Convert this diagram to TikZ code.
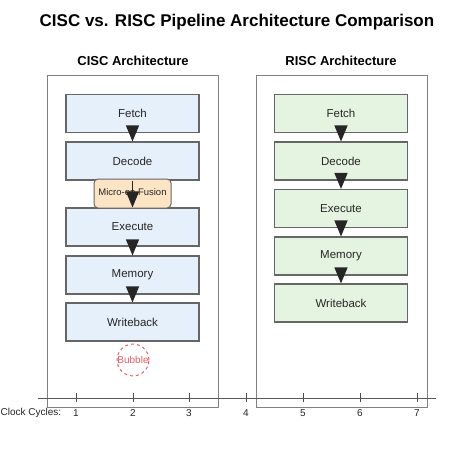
\documentclass[tikz,border=0pt]{standalone}
\usepackage{fontspec}
\setmainfont{Liberation Sans}
\usetikzlibrary{arrows.meta}
\definecolor{cblue}{HTML}{E6F0FB}
\definecolor{cgreen}{HTML}{E5F4E1}
\definecolor{corange}{HTML}{FDE4C4}
\definecolor{sborder}{HTML}{666666}
\definecolor{oborder}{HTML}{808080}
\definecolor{bred}{HTML}{EE5A64}
\tikzset{
  stagebox/.style={draw=sborder, line width=1.1pt, minimum width=133pt, minimum height=38pt, inner sep=0pt, font=\fontsize{11.5}{13}\selectfont, text=black!85},
  cisc/.style={stagebox, fill=cblue},
  risc/.style={stagebox, fill=cgreen},
  outerbox/.style={draw=oborder, line width=1pt},
  flow/.style={draw=black!85, line width=1.3pt, -{Triangle[length=16pt,width=13pt]}},
  tick/.style={draw=black!70, line width=0.8pt},
  ticklabel/.style={font=\fontsize{10}{12}\selectfont, text=black!85},
}
\begin{document}
\begin{tikzpicture}[x=1pt,y=-1pt]
\useasboundingbox (0,0) rectangle (474,474);
\fill[white] (0,0) rectangle (474,474);
% titles
\node[font=\bfseries\fontsize{17}{20}\selectfont] (title) at (237,22) {CISC vs. RISC Pipeline Architecture Comparison};
\node[font=\bfseries\fontsize{13}{15}\selectfont] (ctitle) at (133,61) {CISC Architecture};
\node[font=\bfseries\fontsize{13}{15}\selectfont] (rtitle) at (341,61) {RISC Architecture};
% outer boxes
\node[outerbox, minimum width=171pt, minimum height=332pt, inner sep=0pt] (cbox) at (132.5,241) {};
\node[outerbox, minimum width=171pt, minimum height=332pt, inner sep=0pt] (rbox) at (341.5,241) {};
% CISC stages
\node[cisc] (cf) at (132.5,113.5) {Fetch};
\node[cisc] (cd) at (132.5,161) {Decode};
\node[cisc] (ce) at (132.5,227) {Execute};
\node[cisc] (cm) at (132.5,275) {Memory};
\node[cisc] (cw) at (132.5,322) {Writeback};
\node[draw=sborder, line width=1pt, fill=corange, rounded corners=4pt, minimum width=77pt, minimum height=29pt, inner sep=0pt, font=\fontsize{9.5}{11}\selectfont, text=black!85] (fuse) at (132.5,193.5) {Micro-op Fusion};
% RISC stages
\node[risc] (rf) at (341,113.5) {Fetch};
\node[risc] (rd) at (341,161) {Decode};
\node[risc] (re) at (341,208.5) {Execute};
\node[risc] (rm) at (341,256) {Memory};
\node[risc] (rw) at (341,303) {Writeback};
% arrows
\draw[flow] (cf.south) -- (cd.north);
\draw[flow] (cd.south) -- (ce.north);
\draw[flow] (ce.south) -- (cm.north);
\draw[flow] (cm.south) -- (cw.north);
\draw[flow] (rf.south) -- (rd.north);
\draw[flow] (rd.south) -- (re.north);
\draw[flow] (re.south) -- (rm.north);
\draw[flow] (rm.south) -- (rw.north);
% bubble
\node[circle, draw=bred, dashed, dash pattern=on 3pt off 3pt, line width=1pt, minimum size=29pt, inner sep=0pt, text=bred, font=\fontsize{10}{11}\selectfont] (bub) at (133,360) {Bubble};
% clock axis
\coordinate (axl) at (38,398);
\coordinate (axr) at (436,398);
\draw[draw=black!65, line width=1pt] (axl) -- (axr);
\node[ticklabel, anchor=west, inner sep=0pt] (cc) at (0.5,413) {Clock Cycles:};
\foreach \i/\x in {1/76,2/133,3/189,4/246,5/303,6/360,7/417}{
  \coordinate (t\i) at (\x,393);
  \draw[tick] (t\i) -- ++(0,9);
  \node[ticklabel] (l\i) at (\x,413) {\i};
}
\end{tikzpicture}
\end{document}
